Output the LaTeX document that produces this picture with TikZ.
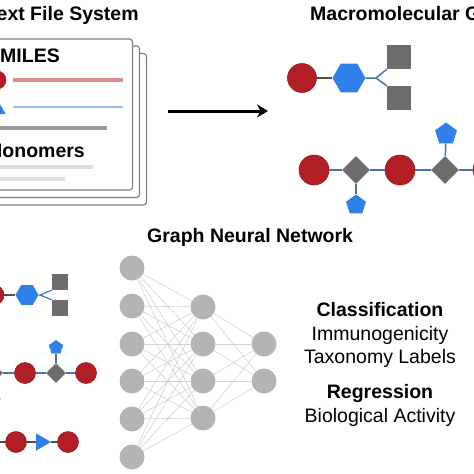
\documentclass[tikz,border=0pt]{standalone}
\usepackage{fontspec}
\setmainfont{Liberation Sans}
\usepackage{tikz}
\usetikzlibrary{shapes.geometric, arrows.meta}
\definecolor{molred}{HTML}{B11E23}
\definecolor{molblue}{HTML}{2F80EA}
\definecolor{molgray}{HTML}{6D6D6D}
\definecolor{bondgray}{HTML}{4D4D4D}
\definecolor{bondblue}{HTML}{4A74B0}
\definecolor{nngray}{HTML}{B4B4B4}
\definecolor{wiregray}{HTML}{D4D4D4}
\definecolor{pagegray}{HTML}{808080}

\begin{document}
\begin{tikzpicture}[x=1pt,y=-1pt,
    circ/.style={circle,fill=molred,draw=molred!85!black,line width=0.6pt,inner sep=0pt,minimum size=#1},
    hexa/.style={regular polygon,regular polygon sides=6,fill=molblue,inner sep=0pt,minimum size=#1},
    penta/.style={regular polygon,regular polygon sides=5,fill=molblue,inner sep=0pt,minimum size=#1},
    tri/.style={regular polygon,regular polygon sides=3,fill=molblue,inner sep=0pt,minimum size=#1},
    sq/.style={rectangle,fill=molgray,inner sep=0pt,minimum size=#1},
    dia/.style={diamond,fill=molgray,inner sep=0pt,minimum size=#1},
    bond/.style={bondblue,line width=1.5pt},
    neuron/.style={circle,fill=nngray,inner sep=0pt,minimum size=25pt},
    wire/.style={wiregray,line width=0.6pt},
    page/.style={draw=pagegray,fill=white,line width=1.2pt,rounded corners=3pt},
    title/.style={font=\bfseries\fontsize{19.5}{23}\selectfont,inner sep=0pt},
    label/.style={font=\fontsize{19.5}{23}\selectfont,inner sep=0pt,anchor=base}]
          \useasboundingbox (0,0) rectangle (474,474);
          \clip (0,0) rectangle (474,474);
          \node[title,anchor=base west] (tfs) at (-14,20) {Text File System};
          \node[title,anchor=base west] (mmg) at (310,20) {Macromolecular Graphs};
          \node[title,anchor=base west] (gnn) at (147,242) {Graph Neural Network};
          \draw[page] (-11,53.5) rectangle (146.5,205);
          \draw[page] (-18,46) rectangle (139.5,197.5);
          \draw[page] (-25,39) rectangle (132.5,190);
          \node[title,anchor=base west] (smi) at (-13,62) {SMILES};
          \node[circ=18] (r0) at (-3,80) {};
          \node[tri=20] (t0) at (-3,109) {};
          \draw[line width=4pt,molred!50] (13,80) -- (123,80);
          \draw[line width=2pt,molblue!50] (13,107) -- (123,107);
          \draw[line width=4pt,black!40] (-25,128) -- (107,128);
          \node[title,anchor=base west] (mon) at (-14,157) {Monomers};
          \draw[line width=4pt,black!13] (-25,167) -- (93,167);
          \draw[line width=4pt,black!13] (-25,179) -- (65,179);
          \coordinate (a1) at (168,111);
          \coordinate (a2) at (268,111);
          \draw[-{Stealth[length=11pt,width=13pt]},line width=3pt] (a1) -- (a2);
          \node[circ=29] (R1) at (302,78) {};
          \node[hexa=33] (H1) at (349,78) {};
          \coordinate (F1) at (376,78);
          \node[sq=24] (Q1) at (399,57) {};
          \node[sq=24] (Q2) at (399,98) {};
          \draw[bond,bondgray] (R1) -- (H1);
          \draw[bond] (H1) -- (F1) -- (Q1.south west);
          \draw[bond] (F1) -- (Q2.north west);
          \node[circ=30] (R2) at (314,170) {};
          \node[dia=28] (D1) at (356,170) {};
          \node[penta=21] (P1) at (356,205) {};
          \node[circ=30] (R3) at (400,170) {};
          \node[dia=28] (D2) at (445,170) {};
          \node[penta=23] (P2) at (446,134) {};
          \node[circ=30] (R4) at (488,170) {};
          \draw[bond] (R2) -- (D1) -- (R3) -- (D2) -- (R4);
          \draw[bond] (D1) -- (P1);
          \draw[bond] (D2) -- (P2);
          \node[circ=20] (R5) at (-6,295) {};
          \node[hexa=23] (H2) at (27,295) {};
          \coordinate (F2) at (40,295);
          \node[sq=16] (Q3) at (60,282) {};
          \node[sq=16] (Q4) at (60,308) {};
          \draw[bond,bondgray,line width=1.2pt] (R5) -- (H2);
          \draw[bond,line width=1.2pt] (H2) -- (F2) -- (Q3.south west);
          \draw[bond,line width=1.2pt] (F2) -- (Q4.north west);
          \node[dia=20] (D3) at (-7,373) {};
          \node[penta=16] (P3) at (-7,401) {};
          \node[circ=21] (R6) at (25,373) {};
          \node[dia=20] (D4) at (56,373) {};
          \node[penta=15] (P4) at (56,347.5) {};
          \node[circ=21] (R7) at (86,373) {};
          \draw[bond,line width=1.2pt] (D3) -- (R6) -- (D4) -- (R7);
          \draw[bond,line width=1.2pt] (D3) -- (P3);
          \draw[bond,line width=1.2pt] (D4) -- (P4);
          \coordinate (L0) at (-10,442);
          \node[circ=21] (R8) at (16,442) {};
          \node[tri=20,shape border rotate=-90] (T1) at (41,442) {};
          \node[circ=21] (R9) at (68,442) {};
          \draw[bond,bondgray,line width=1.2pt] (L0) -- (R8) -- (T1) -- (R9);
          \foreach \i/\y in {1/268,2/306,3/344,4/381,5/419,6/457}
            \node[neuron] (n\i) at (132,\y) {};
          \foreach \i/\y in {1/307,2/344,3/381,4/418}
            \node[neuron] (h\i) at (203,\y) {};
          \foreach \i/\y in {1/344,2/381}
            \node[neuron] (o\i) at (264,\y) {};
          \foreach \i in {1,...,6}
            \foreach \j in {1,...,4}
              \draw[wire] (n\i) -- (h\j);
          \foreach \i in {1,...,4}
            \foreach \j in {1,2}
              \draw[wire] (h\i) -- (o\j);
          \node[label,font=\bfseries\fontsize{19.5}{23}\selectfont] (cls) at (380,316) {Classification};
          \node[label] (imm) at (380,340) {Immunogenicity};
          \node[label] (tax) at (380,363) {Taxonomy Labels};
          \node[label,font=\bfseries\fontsize{19.5}{23}\selectfont] (reg) at (380,398) {Regression};
          \node[label] (bio) at (380,422) {Biological Activity};
        \end{tikzpicture}
\end{document}
